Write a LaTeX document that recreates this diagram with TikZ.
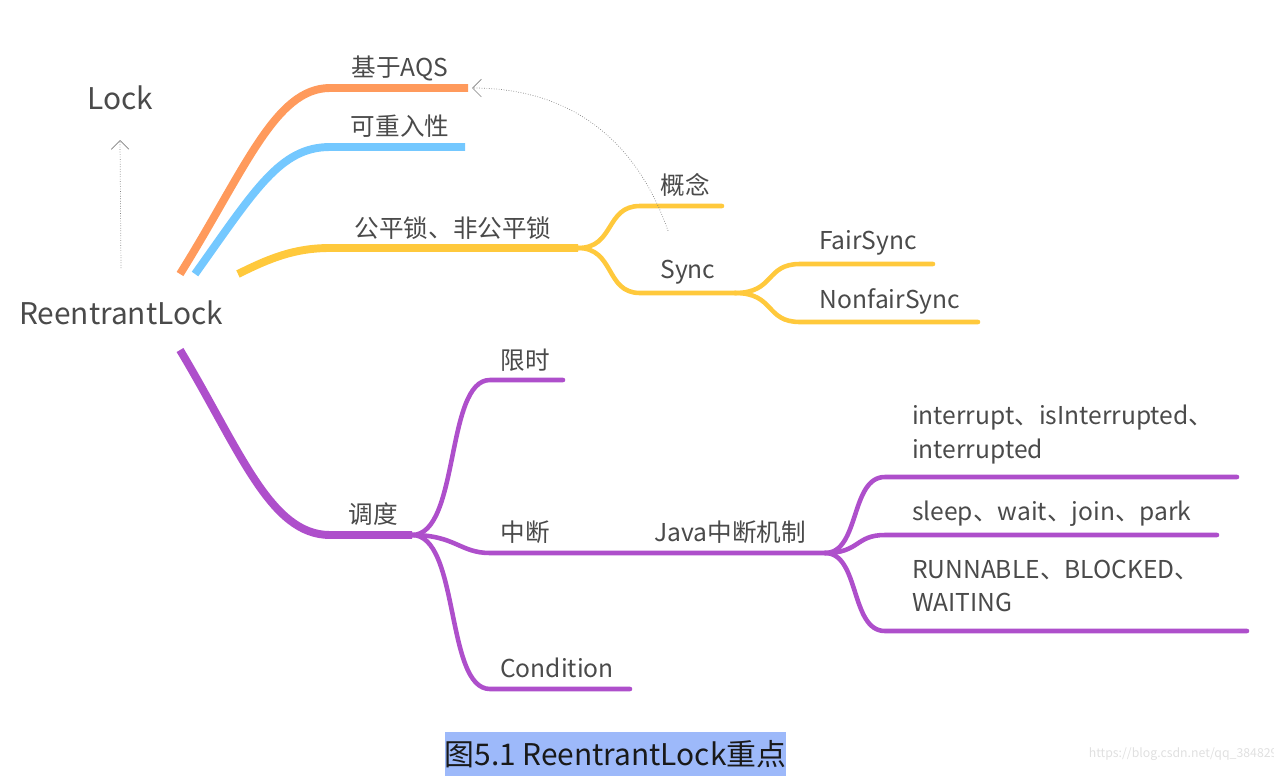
\documentclass[tikz,border=0pt]{standalone}
\usepackage{fontspec}
\setmainfont{Noto Sans CJK SC}
\usetikzlibrary{positioning,arrows.meta,calc}
\definecolor{txt}{HTML}{4A4A4A}
\definecolor{corange}{HTML}{FF9A5C}
\definecolor{cblue}{HTML}{74C8FF}
\definecolor{cyellow}{HTML}{FFC93C}
\definecolor{cpurple}{HTML}{AE4FCB}
\definecolor{capbg}{HTML}{9DB9FA}
\tikzset{
     lbl/.style={text=txt, font=\fontsize{14}{19}\selectfont, inner sep=1pt},
     main/.style={line width=4.5pt, line cap=butt},
     sub/.style={line width=2.6pt, line cap=round},
     hint/.style={draw=gray, densely dotted, thin, -{Straight Barb[length=5pt,width=10pt]}}
     }
\begin{document}
\begin{tikzpicture}[x=0.02cm,y=-0.02cm]
\useasboundingbox (0,0) rectangle (1274,778);

% nodes
\node [lbl, font=\fontsize{17}{19}\selectfont] (root) at (121,313) {ReentrantLock};
\node [lbl, font=\fontsize{17}{19}\selectfont] (lock) at (120,98) {Lock};
\node [lbl] (aqs) at (400,68) {基于AQS};
\node [lbl] (reent) at (400,126) {可重入性};
\node [lbl] (fair) at (453,228) {公平锁、非公平锁};
\node [lbl] (concept) at (685,185) {概念};
\node [lbl] (sync) at (688,272) {Sync};
\node [lbl] (fs) at (868,243) {FairSync};
\node [lbl] (nfs) at (890,301) {NonfairSync};
\node [lbl] (sched) at (373,514) {调度};
\node [lbl] (timed) at (525,360) {限时};
\node [lbl] (intr) at (525,532) {中断};
\node [lbl] (cond) at (557,668) {Condition};
\node [lbl] (java) at (730,532) {Java中断机制};
\node [lbl, align=left, anchor=north west] (m1) at (910,403) {interrupt、isInterrupted、\\interrupted};
\node [lbl, anchor=west] (m2) at (910,514) {sleep、wait、join、park};
\node [lbl, align=left, anchor=north west] (m3) at (910,558) {RUNNABLE、BLOCKED、\\WAITING};

% branch points
\coordinate (fairEnd) at (578,248);
\coordinate (syncEnd) at (735,293);
\coordinate (schedEnd) at (412,535);
\coordinate (intrEnd) at (825,553);

% first level
\draw [main, corange] (180,274) .. controls (245,170) and (275,88) .. (330,88) -- (468,88);
\draw [main, cblue] (195,274) .. controls (255,190) and (280,147) .. (330,147) -- (465,147);
\draw [main, cyellow] (238,274) .. controls (270,258) and (295,248) .. (330,248) -- (fairEnd);
\draw [main, cpurple] (180,350) .. controls (240,450) and (270,535) .. (330,535) -- (schedEnd);

% fair / unfair
\draw [sub, cyellow] (fairEnd) .. controls (615,248) and (605,206) .. (640,206) -- (722,206);
\draw [sub, cyellow] (fairEnd) .. controls (615,248) and (605,293) .. (640,293) -- (syncEnd);
\draw [sub, cyellow] (syncEnd) .. controls (775,293) and (765,264) .. (800,264) -- (933,264);
\draw [sub, cyellow] (syncEnd) .. controls (775,293) and (765,322) .. (800,322) -- (978,322);

% schedule
\draw [sub, cpurple] (schedEnd) .. controls (460,535) and (445,380) .. (490,380) -- (563,380);
\draw [sub, cpurple] (schedEnd) .. controls (455,535) and (460,553) .. (490,553) -- (intrEnd);
\draw [sub, cpurple] (schedEnd) .. controls (460,535) and (445,689) .. (490,689) -- (630,689);
\draw [sub, cpurple] (intrEnd) .. controls (860,553) and (850,477) .. (885,477) -- (1237,477);
\draw [sub, cpurple] (intrEnd) .. controls (860,553) and (855,535) .. (885,535) -- (1217,535);
\draw [sub, cpurple] (intrEnd) .. controls (860,553) and (850,631) .. (885,631) -- (1247,631);

% hints
\draw [hint] (121,268) -- (lock.south |- 0,140);
\draw [hint] (sync.north) ++(-20,-27) .. controls (640,150) and (580,88) .. (472,88);

% caption
\node [fill=capbg, text=black!90, font=\fontsize{17}{19}\selectfont, minimum width=331*0.02cm,
       minimum height=44*0.02cm, inner sep=0pt] (cap) at (615.5,754) {图5.1 ReentrantLock重点};
\node [text=black!12, font=\fontsize{7}{9}\selectfont, inner sep=0pt] (wm) at (1190,754) {https://blog.csdn.net/qq\_38482920};
\end{tikzpicture}
\end{document}
